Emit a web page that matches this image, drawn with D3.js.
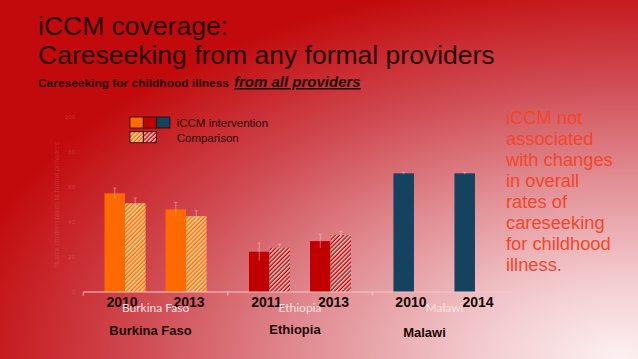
<!DOCTYPE html>
<html>
<head>
<meta charset="utf-8">
<script src="https://cdn.jsdelivr.net/npm/d3@7"></script>
<style>
  html, body { margin: 0; padding: 0; overflow: hidden; }
  svg { display: block; font-family: "Liberation Sans", Arial, sans-serif; }
</style>
</head>
<body>
<svg width="638" height="359"></svg>
<script>
(function(d3) {
    'use strict';

    // data
    const countries = ['Burkina Faso', 'Ethiopia', 'Malawi'];
    const years = [['2010', '2013'], ['2011', '2013'], ['2010', '2014']];
    const intervention = [[56.4, 47.2], [23.0, 29.1], [67.8, 67.8]];
    const comparison = [[50.7, 43.4], [25.3, 32.6], [null, null]];
    const intervErr = [[3, 4], [5, 4], [0.6, 0.6]];
    const compErr = [[3, 3], [2, 2], [null, null]];
    const yTicks = [0, 20, 40, 60, 80, 100];
    const series = ['intervention', 'comparison'];
    const barColors = ['#ff6a00', '#c00000', '#15425f'];
    const hatchLight = ['#ffd9a8', '#f8d6d6'];
    const noteLines = ['iCCM not', 'associated', 'with changes', 'in overall',
        'rates of', 'careseeking', 'for childhood', 'illness.'];

    const svg = d3.select('svg');
    const defs = svg.append('defs');

    // background
    const bg = defs.append('radialGradient')
        .attr('id', 'bg')
        .attr('cx', 1).attr('cy', 1).attr('r', 1.08)
        .attr('fx', 0.97).attr('fy', 1);
    [[0, '#fdf1f2'], [0.22, '#f2c8cc'], [0.48, '#e08a90'], [0.72, '#d04a52'], [1, '#c20a0c']]
        .forEach(([o, c]) => bg.append('stop').attr('offset', o).attr('stop-color', c));
    svg.append('rect').attr('width', 638).attr('height', 359).attr('fill', 'url(#bg)');

    // hatch patterns
    const hatch = (id, base, light) => {
        const p = defs.append('pattern')
            .attr('id', id)
            .attr('patternUnits', 'userSpaceOnUse')
            .attr('width', 3).attr('height', 3)
            .attr('patternTransform', 'rotate(45)');
        p.append('rect').attr('width', 3).attr('height', 3).attr('fill', base);
        p.append('rect').attr('width', 1.5).attr('height', 3).attr('fill', light);
    };
    hatch('h0', barColors[0], hatchLight[0]);
    hatch('h1', barColors[1], hatchLight[1]);

    // titles
    const title = svg.append('text')
        .attr('x', 38).attr('y', 35)
        .attr('font-size', 26.5).attr('fill', '#230707');
    title.append('tspan').text('iCCM coverage:');
    title.append('tspan').attr('x', 38).attr('y', 64).text('Careseeking from any formal providers');

    svg.append('text')
        .attr('x', 38).attr('y', 87)
        .attr('font-size', 11.5).attr('font-weight', 'bold')
        .attr('textLength', 191).attr('lengthAdjust', 'spacingAndGlyphs')
        .attr('fill', '#1e0707')
        .text('Careseeking for childhood illness');
    svg.append('text')
        .attr('x', 234).attr('y', 87)
        .attr('font-size', 15).attr('font-weight', 'bold').attr('font-style', 'italic')
        .attr('text-decoration', 'underline')
        .attr('fill', '#1e0707')
        .text('from all providers');

    // scales
    const x0 = d3.scaleBand().domain(countries).range([83.3, 516.7]);
    const x1 = d3.scalePoint().domain([0, 1]).range([0, x0.bandwidth()]).padding(0.684);
    const xs = d3.scaleBand().domain(series).range([-20.5, 20.5]);
    const y = d3.scaleLinear().domain([0, 100]).range([292, 117]);

    // y axis (very faint)
    const yAxis = svg.append('g')
        .attr('transform', 'translate(78,0)')
        .call(d3.axisLeft(y).tickValues(yTicks).tickSize(0).tickPadding(3));
    yAxis.select('.domain').remove();
    yAxis.selectAll('text')
        .attr('font-size', 6).attr('font-family', 'Liberation Sans, Arial')
        .attr('fill', '#ffffff').attr('fill-opacity', 0.16);
    svg.append('text')
        .attr('transform', 'translate(59,205) rotate(-90)')
        .attr('text-anchor', 'middle')
        .attr('font-size', 7)
        .attr('fill', '#ffffff').attr('fill-opacity', 0.14)
        .text('% sick children taken to formal providers');

    // bars
    const groups = svg.selectAll('g.country')
        .data(countries)
        .enter().append('g')
        .attr('class', 'country')
        .attr('transform', d => `translate(${x0(d)},0)`);

    groups.each(function(c, ci) {
        const g = d3.select(this);
        [0, 1].forEach(yi => {
            const cx = x1(yi);
            const vals = [intervention[ci][yi], comparison[ci][yi]];
            const errs = [intervErr[ci][yi], compErr[ci][yi]];
            series.forEach((s, si) => {
                const v = vals[si];
                if (v == null) return;
                const fill = si === 0 ? barColors[ci] : `url(#h${ci})`;
                g.append('rect')
                    .attr('x', cx + xs(s))
                    .attr('y', y(v))
                    .attr('width', xs.bandwidth())
                    .attr('height', y(0) - y(v))
                    .attr('fill', fill);
                const e = errs[si];
                const ex = cx + xs(s) + xs.bandwidth() / 2;
                g.append('line')
                    .attr('x1', ex).attr('x2', ex)
                    .attr('y1', y(v - e)).attr('y2', y(v + e))
                    .attr('stroke', '#ffd6d6').attr('stroke-opacity', 0.55)
                    .attr('stroke-width', 0.8);
                g.append('line')
                    .attr('x1', ex - 1.5).attr('x2', ex + 1.5)
                    .attr('y1', y(v + e)).attr('y2', y(v + e))
                    .attr('stroke', '#ffd6d6').attr('stroke-opacity', 0.55)
                    .attr('stroke-width', 0.8);
            });
            g.append('text')
                .attr('x', cx + (yi === 0 ? -3 : 3))
                .attr('y', 307)
                .attr('text-anchor', 'middle')
                .attr('font-size', 14).attr('font-weight', 'bold')
                .attr('fill', '#150606')
                .text(years[ci][yi]);
        });
    });

    // x axis with faint country labels
    const xAxis = svg.append('g')
        .attr('transform', 'translate(0,291.5)')
        .call(d3.axisBottom(x0).tickSize(0).tickPadding(12).tickSizeOuter(0));
    xAxis.select('.domain').attr('stroke', '#f4c8c8').attr('stroke-width', 1.2);
    xAxis.selectAll('text')
        .attr('font-size', 12).attr('font-family', 'Lato, "Open Sans", sans-serif')
        .attr('fill', '#fbe0e0');
    xAxis.selectAll('line.sep')
        .data(x0.domain())
        .enter().append('line')
        .attr('class', 'sep')
        .attr('x1', d => x0(d)).attr('x2', d => x0(d))
        .attr('y1', 0).attr('y2', 4)
        .attr('stroke', '#f4c8c8');

    // country titles
    const bigOffset = [-5, -5, -20];
    const bigY = [335, 334, 337];
    svg.selectAll('text.cname')
        .data(countries)
        .enter().append('text')
        .attr('class', 'cname')
        .attr('x', (d, i) => x0(d) + x0.bandwidth() / 2 + bigOffset[i])
        .attr('y', (d, i) => bigY[i])
        .attr('text-anchor', 'middle')
        .attr('font-size', 13).attr('font-weight', 'bold')
        .attr('fill', '#1a0707')
        .text(d => d);

    // legend
    const legend = svg.append('g').attr('transform', 'translate(130,117)');
    legend.selectAll('rect.solid')
        .data(barColors)
        .enter().append('rect')
        .attr('class', 'solid')
        .attr('x', (d, i) => i * 13.3).attr('y', 0)
        .attr('width', 13.3).attr('height', 11)
        .attr('fill', d => d)
        .attr('stroke', '#1a0505').attr('stroke-width', 0.8);
    legend.selectAll('rect.hatched')
        .data([0, 1])
        .enter().append('rect')
        .attr('class', 'hatched')
        .attr('x', d => d * 13.3).attr('y', 14.7)
        .attr('width', 13.3).attr('height', 11)
        .attr('fill', d => `url(#h${d})`)
        .attr('stroke', '#1a0505').attr('stroke-width', 0.8);
    legend.selectAll('text')
        .data(['iCCM intervention', 'Comparison'])
        .enter().append('text')
        .attr('x', 46.7)
        .attr('y', (d, i) => 10 + i * 15)
        .attr('font-size', 11.5)
        .attr('fill', '#250808')
        .text(d => d);

    // side note
    svg.append('g')
        .selectAll('text')
        .data(noteLines)
        .enter().append('text')
        .attr('x', 506)
        .attr('y', (d, i) => 124 + i * 21)
        .attr('font-size', 18.3)
        .attr('fill', '#f2462a')
        .text(d => d);
}(d3));
</script>
</body>
</html>
